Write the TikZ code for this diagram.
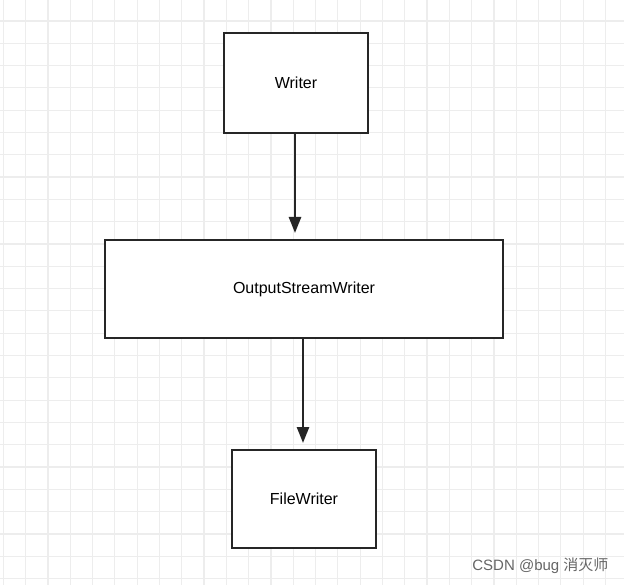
\documentclass[tikz,border=0pt]{standalone}
\usepackage{fontspec}
\setmainfont{Liberation Sans}
\newfontfamily\cjk{Noto Sans CJK SC}
\usetikzlibrary{arrows.meta}
\begin{document}
\begin{tikzpicture}[x=1pt,y=-1pt,
  box/.style={draw=black!85,line width=2.5pt,fill=white,inner sep=0pt,font=\fontsize{16}{19}\selectfont},
  arr/.style={draw=black!85,line width=2.5pt,-{Triangle[length=16pt,width=12pt]}}]
\useasboundingbox (0,0) rectangle (624,585);
\fill[white] (0,0) rectangle (624,585);
\foreach \i in {0,...,27} {
  \pgfmathsetmacro\xx{3.3+22.3*\i}
  \draw[black!7,line width=1.2pt] (\xx,0) -- (\xx,585);
}
\foreach \i in {0,...,26} {
  \pgfmathsetmacro\yy{-1.3+22.3*\i}
  \draw[black!7,line width=1.2pt] (0,\yy) -- (624,\yy);
}
\node[box,minimum width=144pt,minimum height=100pt] (w) at (296,83) {Writer};
\node[box,minimum width=398pt,minimum height=98pt] (o) at (304,289) {OutputStreamWriter};
\node[box,minimum width=144pt,minimum height=98pt] (f) at (304,499) {FileWriter};
\draw[arr] (w.south -| 295,0) -- (295,233);
\draw[arr] (o.south -| 303,0) -- (303,443);
\node[text=black!60,font=\fontsize{15}{18}\selectfont,anchor=east] (wm) at (612,566) {CSDN @bug {\cjk 消灭师}};
\end{tikzpicture}
\end{document}
